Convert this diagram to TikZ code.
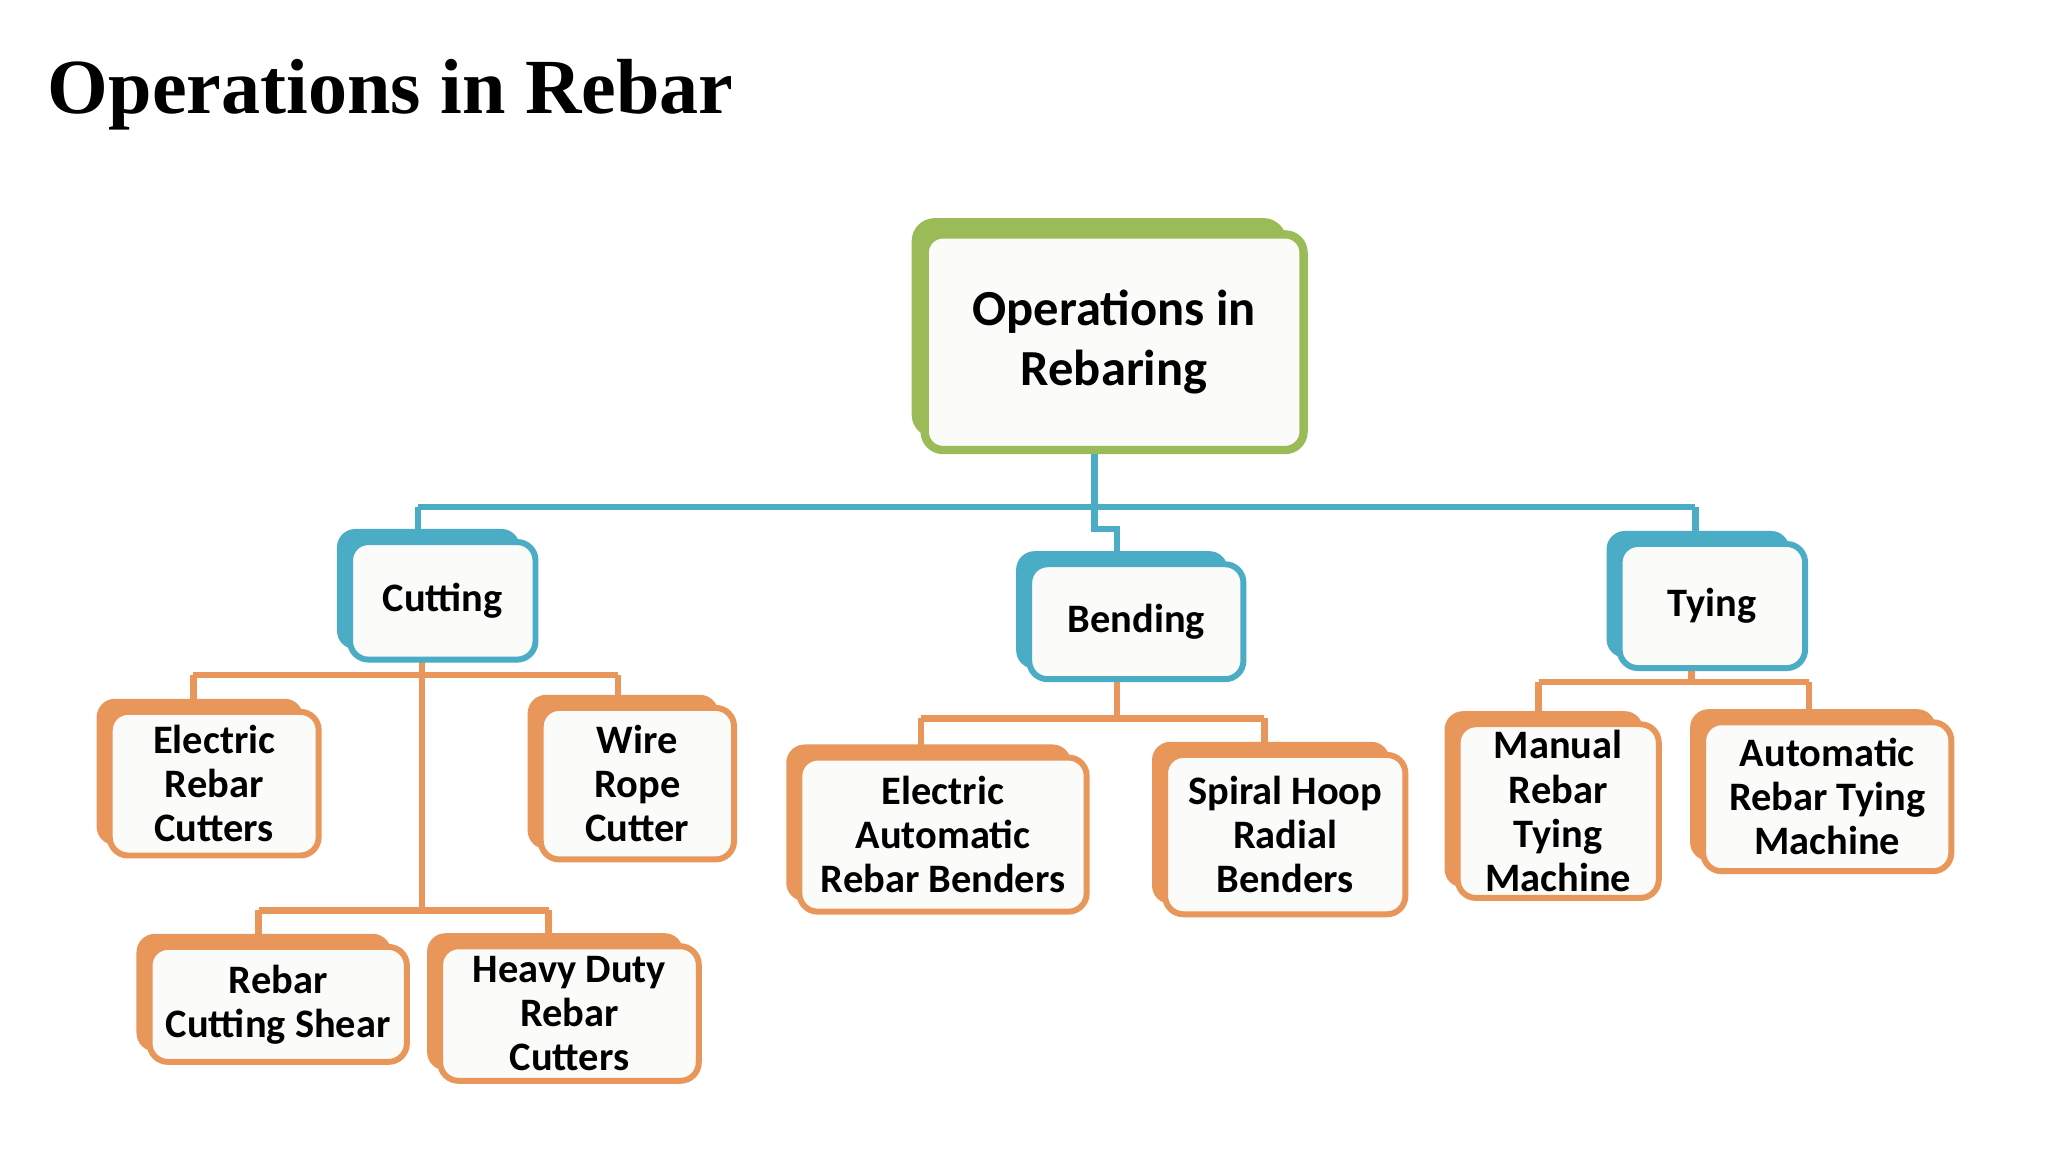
\documentclass[tikz,border=0pt]{standalone}
\usepackage{fontspec}
\setmainfont{Liberation Serif}
\newfontfamily\calib{Carlito}
\definecolor{grn}{HTML}{9BBB59}
\definecolor{blu}{HTML}{4BACC6}
\definecolor{org}{HTML}{E8965A}
\definecolor{frontfill}{HTML}{FBFCFA}
\tikzset{
 frontbox/.style={draw=#1, line width=1.3pt, rounded corners=4pt, fill=frontfill, align=center, inner sep=0pt, font=\calib\bfseries\fontsize{8.8}{9.6}\selectfont},
 conn/.style={draw=#1, line width=1.4pt}
}
\newcommand{\obox}[7]{% name colour cx cy w h text
 \fill[#2, rounded corners=4pt] ({#3-#5/2-10},{#4-#6/2-10}) rectangle ({#3+#5/2-12},{#4+#6/2-8});
 \node[frontbox=#2, minimum width={#5*0.01cm}, minimum height={#6*0.01cm}] (#1) at (#3,#4) {#7};
}
\begin{document}
\begin{tikzpicture}[x=0.01cm,y=-0.01cm]
\fill[white] (0,0) rectangle (1568,882);
\useasboundingbox (0,0) rectangle (1568,882);
\node[anchor=base west, font=\bfseries\fontsize{17}{20}\selectfont, inner sep=0pt] (title) at (36,87) {Operations in Rebar};
% connectors first
\coordinate (rb) at (838,345);
\coordinate (h1) at (838,388);
\coordinate (hl) at (320,388);
\coordinate (hr) at (1298,388);
\draw[conn=blu] (rb) -- (h1);
\draw[conn=blu] (hl) -- (hr);
\draw[conn=blu] (hl) -- (320,415);
\draw[conn=blu] (hr) -- (1298,417);
\draw[conn=blu] (h1) -- (838,405) -- (855,405) -- (855,432);
% orange cutting
\draw[conn=org] (323,505) -- (323,697);
\draw[conn=org] (148,517) -- (473,517);
\draw[conn=org] (148,517) -- (148,545);
\draw[conn=org] (473,517) -- (473,542);
\draw[conn=org] (198,697) -- (420,697);
\draw[conn=org] (198,697) -- (198,725);
\draw[conn=org] (420,697) -- (420,725);
% bending
\draw[conn=org] (855,520) -- (855,550);
\draw[conn=org] (705,550) -- (968,550);
\draw[conn=org] (705,550) -- (705,580);
\draw[conn=org] (968,550) -- (968,578);
% tying
\draw[conn=org] (1295,512) -- (1295,522);
\draw[conn=org] (1178,522) -- (1385,522);
\draw[conn=org] (1178,522) -- (1178,555);
\draw[conn=org] (1385,522) -- (1385,553);
% boxes
\fill[grn, rounded corners=5pt] (698,167) rectangle (985,335);
\node[frontbox=grn, line width=1.8pt, minimum width=2.9cm, minimum height=1.65cm, font=\calib\bfseries\fontsize{11}{13}\selectfont] (root) at (853,262) {Operations in\\Rebaring};
\obox{cut}{blu}{339}{460}{142}{90}{Cutting}
\obox{bend}{blu}{870}{476}{164}{88}{Bending}
\obox{tie}{blu}{1311}{464}{142}{95}{Tying}
\obox{erc}{org}{164}{600}{160}{110}{Electric\\Rebar\\Cutters}
\obox{wrc}{org}{488}{600}{148}{116}{Wire\\Rope\\Cutter}
\obox{rcs}{org}{213}{769}{197}{88}{Rebar\\Cutting Shear}
\obox{hdr}{org}{436}{776}{198}{103}{Heavy Duty\\Rebar\\Cutters}
\obox{eab}{org}{722}{639}{220}{118}{Electric\\Automatic\\Rebar Benders}
\obox{shr}{org}{984}{639}{184}{122}{Spiral Hoop\\Radial\\Benders}
\obox{mrt}{org}{1193}{621}{154}{133}{Manual\\Rebar\\Tying\\Machine}
\obox{art}{org}{1399}{610}{190}{114}{Automatic\\Rebar Tying\\Machine}
\end{tikzpicture}
\end{document}
